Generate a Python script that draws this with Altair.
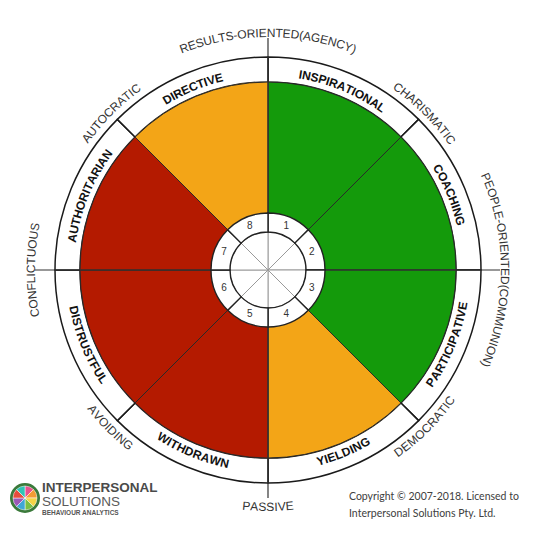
import math
import altair as alt
import pandas as pd

# ---------------- data ----------------
sector_names = ["INSPIRATIONAL", "COACHING", "PARTICIPATIVE", "YIELDING",
                "WITHDRAWN", "DISTRUSTFUL", "AUTHORITARIAN", "DIRECTIVE"]
sector_numbers = ["1", "2", "3", "4", "5", "6", "7", "8"]
sector_colors = ["#149a0b", "#149a0b", "#149a0b", "#f3a517",
                 "#b41a00", "#b41a00", "#b41a00", "#f3a517"]
axis_labels = ["RESULTS-ORIENTED(AGENCY)", "CHARISMATIC", "PEOPLE-ORIENTED(COMMUNION)",
               "DEMOCRATIC", "PASSIVE", "AVOIDING", "CONFLICTUOUS", "AUTOCRATIC"]
logo_colors = ["#e8508f", "#f39c34", "#f5d547", "#7bc043",
               "#3fa7d6", "#9b59b6", "#e74c3c", "#2ec4b6"]
copyright_lines = ["Copyright \u00a9 2007-2018. Licensed to",
                   "Interpersonal Solutions Pty. Ltd."]

# ---------------- geometry / style constants ----------------
N = len(sector_names)
STEP = 360 / N
R_COLOR = 188
R_OUTER = 213
R_IN1 = 38
R_IN2 = 57
R_SECTOR_TEXT = 198
FONT = "Liberation Sans, Arial, Helvetica, sans-serif"

# Arial / Liberation Sans advance widths (1/1000 em)
W_REG = dict(A=667, B=667, C=722, D=722, E=667, F=611, G=778, H=722, I=278, J=500,
             K=667, L=556, M=833, N=722, O=778, P=667, Q=778, R=722, S=667, T=611,
             U=722, V=667, W=944, X=667, Y=667, Z=611)
W_REG.update({"-": 333, "(": 333, ")": 333, " ": 278})
W_BOLD = dict(A=722, B=722, C=722, D=722, E=667, F=611, G=778, H=722, I=278, J=556,
              K=722, L=611, M=833, N=722, O=778, P=667, Q=778, R=722, S=667, T=611,
              U=722, V=667, W=944, X=667, Y=667, Z=611)
W_BOLD.update({"-": 333, "(": 333, ")": 333, " ": 278})


def curved(label, center, radius, size, table):
    adv = [table.get(c, 600) * size / 1000 for c in label]
    total = sum(adv)
    c360 = center % 360
    cw = not (90 < c360 < 270)
    rows = []
    s = -total / 2
    for ch, a in zip(label, adv):
        mid = s + a / 2
        s += a
        off = math.degrees(mid / radius)
        th = (center + off) if cw else (center - off)
        th = th % 360
        rot = th if cw else th - 180
        rows.append(dict(ch=ch, theta=th, r=radius, rot=rot % 360))
    return rows


sectors = pd.DataFrame({
    "t0": [i * STEP for i in range(N)],
    "t1": [(i + 1) * STEP for i in range(N)],
    "color": sector_colors,
})
sectors["r0"] = 0
sectors["r1"] = R_COLOR

ring = sectors[["t0", "t1"]].copy()
ring["r0"] = R_COLOR
ring["r1"] = R_OUTER

inner = sectors[["t0", "t1"]].copy()
inner["r0"] = 0
inner["r1"] = R_IN1

ring2 = sectors[["t0", "t1"]].copy()
ring2["r0"] = R_IN1
ring2["r1"] = R_IN2

numbers = pd.DataFrame({
    "txt": sector_numbers,
    "theta": [i * STEP + STEP / 2 for i in range(N)],
})
numbers["r"] = (R_IN1 + R_IN2) / 2

sector_chars = []
for i, name in enumerate(sector_names):
    sector_chars += curved(name, i * STEP + STEP / 2, R_SECTOR_TEXT, 12, W_BOLD)
sector_chars = pd.DataFrame(sector_chars)

axis_chars = []
for i, name in enumerate(axis_labels):
    rad = 237 if i % 2 == 0 else 224
    axis_chars += curved(name, i * STEP, rad, 12, W_REG)
axis_chars = pd.DataFrame(axis_chars)

rules = pd.DataFrame({
    "x": [-233, 0], "y": [0, 232], "x2": [232, 0], "y2": [0, -228],
})

logo = pd.DataFrame({
    "t0": [i * 45 for i in range(8)],
    "t1": [(i + 1) * 45 for i in range(8)],
    "color": logo_colors,
})
logo["r0"] = 0
logo["r1"] = 12
logo_ring = pd.DataFrame({"t0": [0], "t1": [360], "r0": [11], "r1": [15]})

# ---------------- scales ----------------
TH = alt.Scale(domain=[0, 360], range=[0, 2 * math.pi])
RS = alt.Scale(type="linear", domain=[0, 260], range=[0, 260], zero=True)
XS = alt.Scale(domain=[-260, 260], nice=False, zero=False)
YS = alt.Scale(domain=[-262, 262], nice=False, zero=False)


def arc_enc(ch):
    return ch.encode(
        theta=alt.Theta("t0:Q", scale=TH),
        theta2=alt.Theta2("t1:Q"),
        radius=alt.Radius("r1:Q", scale=RS),
        radius2=alt.Radius2("r0:Q"),
    )


ring_l = arc_enc(alt.Chart(ring).mark_arc(fill="white", stroke="#1a1a1a", strokeWidth=1.5))
sector_l = arc_enc(alt.Chart(sectors).mark_arc(stroke="#2a2a2a", strokeWidth=1)).encode(
    fill=alt.Fill("color:N", scale=None))
rule_l = alt.Chart(rules).mark_rule(color="#333333", strokeWidth=1.2).encode(
    x=alt.X("x:Q", scale=XS, axis=None),
    y=alt.Y("y:Q", scale=YS, axis=None),
    x2="x2:Q", y2="y2:Q")
inner_l = arc_enc(alt.Chart(inner).mark_arc(fill="white", stroke="#9a9a9a", strokeWidth=1))
ring2_l = arc_enc(alt.Chart(ring2).mark_arc(fill="white", stroke="#222222", strokeWidth=1.4))

num_l = alt.Chart(numbers).mark_text(font=FONT, fontSize=10, color="#333333",
                                     align="center", baseline="middle").encode(
    theta=alt.Theta("theta:Q", scale=TH, stack=False),
    radius=alt.Radius("r:Q", scale=RS),
    text="txt:N")

sec_text = alt.Chart(sector_chars).mark_text(font=FONT, fontSize=12, fontWeight="bold",
                                             color="#111111", align="center",
                                             baseline="middle").encode(
    theta=alt.Theta("theta:Q", scale=TH, stack=False),
    radius=alt.Radius("r:Q", scale=RS),
    angle=alt.Angle("rot:Q", scale=None),
    text="ch:N")

axis_text = alt.Chart(axis_chars).mark_text(font=FONT, fontSize=12, color="#333333",
                                            align="center", baseline="middle").encode(
    theta=alt.Theta("theta:Q", scale=TH, stack=False),
    radius=alt.Radius("r:Q", scale=RS),
    angle=alt.Angle("rot:Q", scale=None),
    text="ch:N")

logo_arcs = arc_enc(alt.Chart(logo).mark_arc(stroke="white", strokeWidth=0.5)).encode(
    fill=alt.Fill("color:N", scale=None), x=alt.value(17), y=alt.value(490))
logo_ring_l = arc_enc(alt.Chart(logo_ring).mark_arc(fill="#3b7a3b")).encode(
    x=alt.value(17), y=alt.value(490))

one = pd.DataFrame({"k": [0]})
logo_t1 = alt.Chart(one).mark_text(font=FONT, fontSize=13.5, fontWeight="bold", color="#4a4a4a",
                                   align="left", baseline="alphabetic").encode(
    x=alt.value(34), y=alt.value(484), text=alt.value("INTERPERSONAL"))
logo_t2 = alt.Chart(one).mark_text(font=FONT, fontSize=13.5, color="#5a5a5a",
                                   align="left", baseline="alphabetic").encode(
    x=alt.value(34), y=alt.value(498), text=alt.value("SOLUTIONS"))
logo_t3 = alt.Chart(one).mark_text(font=FONT, fontSize=6.5, fontWeight="bold", color="#555555",
                                   align="left", baseline="alphabetic").encode(
    x=alt.value(34), y=alt.value(507), text=alt.value("BEHAVIOUR ANALYTICS"))

copy_l1 = alt.Chart(one).mark_text(font="Lato, Liberation Sans, sans-serif", fontSize=10.5,
                                   color="#404040", align="left", baseline="alphabetic").encode(
    x=alt.value(341), y=alt.value(492), text=alt.value(copyright_lines[0]))
copy_l2 = alt.Chart(one).mark_text(font="Lato, Liberation Sans, sans-serif", fontSize=10.5,
                                   color="#404040", align="left", baseline="alphabetic").encode(
    x=alt.value(341), y=alt.value(509), text=alt.value(copyright_lines[1]))

chart = alt.layer(
    ring_l, sector_l, rule_l, inner_l, ring2_l, num_l, sec_text, axis_text,
    logo_ring_l, logo_arcs, logo_t1, logo_t2, logo_t3, copy_l1, copy_l2,
).properties(
    width=520, height=524, padding=0,
    autosize=alt.AutoSizeParams(type="none"),
    background="white",
).configure_view(stroke=None)

chart.save("out.html", embed_options={"renderer": "svg", "actions": False})
